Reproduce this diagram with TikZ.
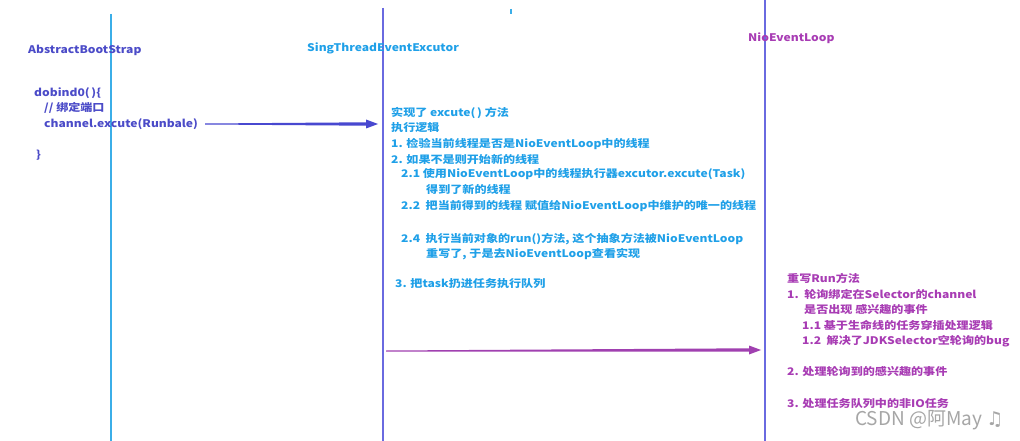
\documentclass[tikz,border=0pt]{standalone}
\usepackage{fontspec}
\setmainfont{Noto Sans CJK SC}[FakeStretch=1.15]
\newfontfamily\wmfont{Noto Sans CJK SC}
\newfontfamily\symfont{DejaVu Sans}
\usetikzlibrary{calc}
\definecolor{lifeA}{HTML}{3BAEE8}
\definecolor{lifeB}{HTML}{6A6AE0}
\definecolor{txtA}{HTML}{4B4BC8}
\definecolor{txtB}{HTML}{1FA0E8}
\definecolor{txtC}{HTML}{A83CB4}
\definecolor{arrA}{HTML}{4848D0}
\definecolor{arrC}{HTML}{A040B0}
\tikzset{
  lbl/.style={anchor=west, inner sep=0pt, font=\fontsize{10.5}{12}\selectfont\bfseries},
  ltxt/.style={lbl, text=txtA},
  mtxt/.style={lbl, text=txtB},
  rtxt/.style={lbl, text=txtC},
  lifelineA/.style={draw=lifeA, line width=1.8pt},
  lifelineB/.style={draw=lifeB, line width=1.8pt},
}
\newcommand{\taperarrow}[3]{%
  \fill[#3] ($(#1)+(0,0.5)$) -- ($(#2)+(-12,1.7)$) -- ($(#2)+(-12,4.5)$) -- (#2)
    -- ($(#2)+(-12,-4.5)$) -- ($(#2)+(-12,-1.7)$) -- ($(#1)+(0,-0.5)$) -- cycle;}
\begin{document}
\begin{tikzpicture}[x=1pt, y=-1pt]
\useasboundingbox[fill=white] (0,0) rectangle (1020,441);
% lifelines
\coordinate (l1top) at (111,14); \coordinate (l1bot) at (111,441);
\coordinate (l2top) at (383,8);  \coordinate (l2bot) at (383,441);
\coordinate (l3top) at (765,0);  \coordinate (l3bot) at (765,441);
\draw[lifelineA] (l1top) -- (l1bot);
\draw[lifelineB] (l2top) -- (l2bot);
\draw[lifelineB] (l3top) -- (l3bot);
\coordinate (mk1) at (511,9); \coordinate (mk2) at (511,14);
\draw[lifelineA] (mk1) -- (mk2);
% headers
\node[ltxt] (h1) at (28,50) {AbstractBootStrap};
\node[mtxt] (h2) at (307,48) {SingThreadEventExcutor};
\node[rtxt] (h3) at (748,38) {NioEventLoop};
% left code
\node[ltxt] (c1) at (34,93) {dobind0(\,)\{};
\node[ltxt] (c2) at (44,108) {// 绑定端口};
\node[ltxt] (c3) at (44,124) {channel.excute(Runbale)};
\node[ltxt] (c4) at (36,155) {\}};
% middle
\node[mtxt] (m1) at (391,113) {实现了 excute(\,) 方法};
\node[mtxt] (m2) at (391,128) {执行逻辑};
\node[mtxt] (m3) at (391,144) {1. 检验当前线程是否是NioEventLoop中的线程};
\node[mtxt] (m4) at (391,159) {2. 如果不是则开始新的线程};
\node[mtxt] (m5) at (401,174) {2.1 使用NioEventLoop中的线程执行器excutor.excute(Task)};
\node[mtxt] (m6) at (426,189) {得到了新的线程};
\node[mtxt] (m7) at (401,206) {2.2\ \ 把当前得到的线程 赋值给NioEventLoop中维护的唯一的线程};
\node[mtxt] (m8) at (401,239) {2.4\ \ 执行当前对象的run()方法, 这个抽象方法被NioEventLoop};
\node[mtxt] (m9) at (426,254) {重写了, 于是去NioEventLoop查看实现};
\node[mtxt] (m10) at (395,284) {3. 把task扔进任务执行队列};
% right
\node[rtxt] (r1) at (787,278) {重写Run方法};
\node[rtxt] (r2) at (787,294) {1.\ \ 轮询绑定在Selector的channel};
\node[rtxt] (r3) at (804,309) {是否出现 感兴趣的事件};
\node[rtxt] (r4) at (802,325) {1.1 基于生命线的任务穿插处理逻辑};
\node[rtxt] (r5) at (802,341) {1.2\ \ 解决了JDKSelector空轮询的bug};
\node[rtxt] (r6) at (787,372) {2. 处理轮询到的感兴趣的事件};
\node[rtxt] (r7) at (787,404) {3. 处理任务队列中的非IO任务};
% arrows
\coordinate (a1s) at (205,124); \coordinate (a1e) at (378,124);
\taperarrow{a1s}{a1e}{arrA}
\coordinate (a2s) at (386,351); \coordinate (a2e) at (761,350);
\taperarrow{a2s}{a2e}{arrC}
% watermark
\node[anchor=west, inner sep=0pt, text=black!35, font=\wmfont\fontsize{19}{21}\selectfont] (wm) at (855,420) {CSDN @阿May {\symfont ♫}};
\end{tikzpicture}
\end{document}
